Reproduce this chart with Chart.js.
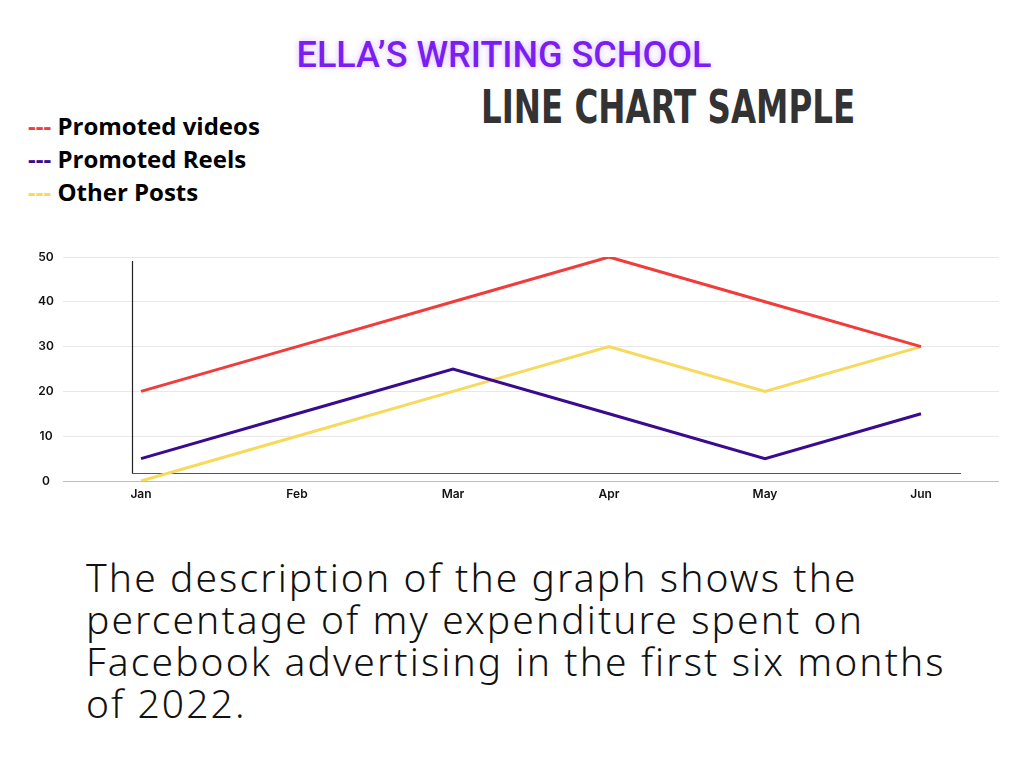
<!DOCTYPE html>
<html>
<head>
<meta charset="utf-8">
<title>Line Chart Sample</title>
<script src="https://cdn.jsdelivr.net/npm/chart.js@4"></script>
<style>
  html, body { margin: 0; padding: 0; background: #fff; }
  body { width: 1024px; height: 768px; position: relative; overflow: hidden; }
  .school {
    position: absolute; top: 34px; left: 0; width: 1008px; text-align: center;
    font-family: Roboto, sans-serif; font-weight: 500; font-size: 36px; color: #7b1ef2;
    text-shadow: 0 0 6px rgba(170, 110, 255, 0.45);
  }
  .title {
    position: absolute; top: 80px; left: 481px; white-space: nowrap;
    font-family: 'Liberation Sans Narrow', 'DejaVu Sans Condensed', sans-serif; font-weight: 700;
    font-size: 46px; color: #333;
    transform: scaleX(0.785); transform-origin: left top;
  }
  .legend {
    position: absolute; top: 109px; left: 28px;
    font-family: 'Open Sans', sans-serif; font-weight: 700; font-size: 24px; line-height: 33px; color: #000;
  }
  .chart-box { position: absolute; top: 240px; left: 0; width: 1024px; height: 280px; }
  .desc {
    position: absolute; top: 556px; left: 86px; width: 930px;
    font-family: 'Noto Sans', sans-serif; font-weight: 300; font-size: 39px; line-height: 42px;
    letter-spacing: 2.1px; color: #111;
  }
</style>
</head>
<body>
<div class="school">ELLA’S WRITING SCHOOL</div>
<div class="title">LINE CHART SAMPLE</div>
<div class="legend" id="legend"></div>
<div class="chart-box"><canvas id="lineChart"></canvas></div>
<div class="desc">The description of the graph shows the<br>percentage of my expenditure spent on<br>Facebook advertising in the first six months<br>of 2022.</div>

<script>
'use strict';

const months = ['Jan', 'Feb', 'Mar', 'Apr', 'May', 'Jun'];
const promotedVideos = [20, 30, 40, 50, 40, 30];
const promotedReels = [5, 15, 25, 15, 5, 15];
const otherPosts = [0, 10, 20, 30, 20, 30];
const yTicks = [0, 10, 20, 30, 40, 50];

const colorRed = '#f23b3b';
const colorPurple = '#3a0a8f';
const colorYellow = '#f7d95c';

const series = [
    { label: 'Promoted videos', data: promotedVideos, color: colorRed },
    { label: 'Promoted Reels', data: promotedReels, color: colorPurple },
    { label: 'Other Posts', data: otherPosts, color: colorYellow }
];

/*leyenda*/
document.getElementById('legend').innerHTML = series.map(function(s) {
    return '<div><span style="color:' + s.color + '">---</span> ' + s.label + '</div>';
}).join('');

/*marco negro dibujado sobre el área*/
const framePlugin = {
    id: 'frame',
    beforeDatasetsDraw(chart) {
        const ctx = chart.ctx;
        const a = chart.chartArea;
        ctx.save();
        ctx.strokeStyle = '#222';
        ctx.lineWidth = 1.2;
        ctx.beginPath();
        ctx.moveTo(a.left + 69.5, a.top + 4);
        ctx.lineTo(a.left + 69.5, a.bottom - 7.5);
        ctx.stroke();
        ctx.strokeStyle = '#555';
        ctx.beginPath();
        ctx.moveTo(a.left + 69, a.bottom - 7.5);
        ctx.lineTo(a.right - 38, a.bottom - 7.5);
        ctx.stroke();
        ctx.restore();
    }
};

const ctx = document.getElementById('lineChart').getContext('2d');
new Chart(ctx, {
    type: 'line',
    data: {
        labels: months,
        datasets: series.map(function(s) {
            return {
                label: s.label,
                data: s.data,
                borderColor: s.color,
                backgroundColor: s.color,
                borderWidth: 3,
                tension: 0,
                pointRadius: 0,
                fill: false
            };
        })
    },
    options: {
        responsive: true,
        maintainAspectRatio: false,
        animation: false,
        layout: { padding: { left: 20, right: 25, top: 17, bottom: 14 } },
        plugins: {
            legend: { display: false },
            tooltip: { enabled: false }
        },
        scales: {
            x: {
                offset: true,
                grid: { display: false, drawTicks: false },
                border: { display: false },
                ticks: {
                    color: '#111',
                    padding: 6,
                    font: { family: 'Inter, sans-serif', size: 12, weight: '600' }
                },
                afterFit: function(s) { s.height = 25; }
            },
            y: {
                min: 0,
                max: 50,
                afterBuildTicks: function(s) { s.ticks = yTicks.map(function(v) { return { value: v }; }); },
                grid: {
                    drawTicks: false,
                    color: function(c) { return c.tick.value === 0 ? '#bdbdbd' : '#e8e8e8'; }
                },
                border: { display: false },
                ticks: {
                    color: '#111',
                    padding: 9,
                    crossAlign: 'center',
                    font: { family: 'Inter, sans-serif', size: 12, weight: '600' }
                },
                afterFit: function(s) { s.width = 43; }
            }
        }
    },
    plugins: [framePlugin]
});
</script>
</body>
</html>
